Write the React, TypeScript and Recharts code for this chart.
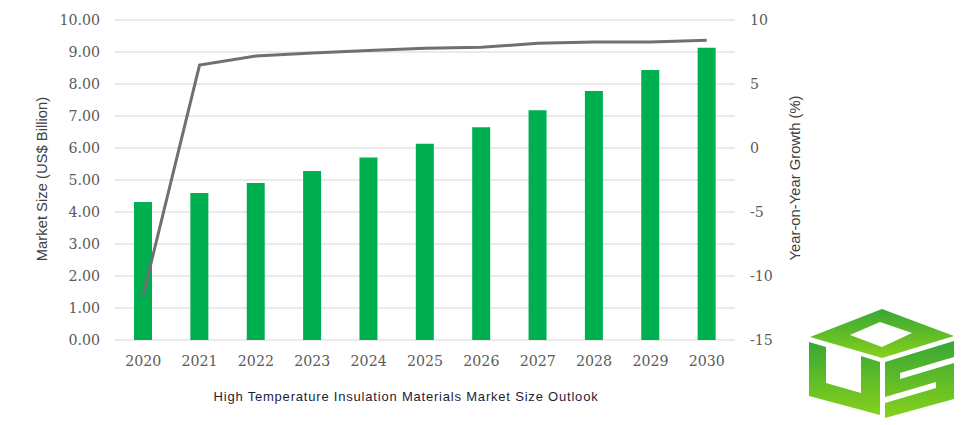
import React from 'react';
import { ComposedChart, Bar, Line, XAxis, YAxis, CartesianGrid } from 'recharts';

// Market size outlook, 2020-2030
const years = ['2020', '2021', '2022', '2023', '2024', '2025', '2026', '2027', '2028', '2029', '2030'];
const marketSize = [4.31, 4.59, 4.91, 5.28, 5.70, 6.13, 6.65, 7.18, 7.78, 8.44, 9.13]; // US$ Billion
const yoyGrowth = [-11.5, 6.48, 7.19, 7.42, 7.62, 7.79, 7.87, 8.18, 8.28, 8.28, 8.41]; // %

const leftTicks = [0, 1, 2, 3, 4, 5, 6, 7, 8, 9, 10];
const rightTicks = [-15, -10, -5, 0, 5, 10];

const data = years.map((year, i) => ({ year, size: marketSize[i], growth: yoyGrowth[i] }));

const tickStyle = { fontFamily: '"DejaVu Serif", serif', fontSize: 14.2, fill: '#5a5a5a' };
const titleStyle = { fontFamily: '"Liberation Sans", Arial, sans-serif', fontSize: 14.8, fill: '#404040' };

function Logo() {
  return (
    <g>
      <defs>
        <linearGradient id="logoGreen" x1="0" y1="0" x2="0" y2="1">
          <stop offset="0%" stopColor="#38a636" />
          <stop offset="100%" stopColor="#86d11b" />
        </linearGradient>
      </defs>
      {/* top face with square hole */}
      <path
        fill="url(#logoGreen)"
        fillRule="evenodd"
        d="M882 309 L954 336 L882 358 L810 337 Z M850 335 L880 322 L912 333 L882 347 Z"
      />
      {/* left face: U */}
      <path
        fill="url(#logoGreen)"
        d="M809 342 L826 347 L826 383 L861 393 L861 356 L880 362 L880 415 L809 396 Z"
      />
      {/* right face: S */}
      <path
        fill="url(#logoGreen)"
        d="M885 362 L954 341 L954 357 L900 373 L900 379 L954 363 L954 399 L885 418 L885 403 L936 388 L936 382 L885 397 Z"
      />
    </g>
  );
}

export default function App() {
  return (
    <div style={{ position: 'absolute', left: 0, top: 0, width: 975, height: 425, background: '#fff' }}>
      <ComposedChart
        width={975}
        height={425}
        data={data}
        margin={{ top: 20, right: 0, bottom: 55, left: 0 }}
        barCategoryGap={0}
      >
        <CartesianGrid vertical={false} stroke="#e3e3e3" strokeWidth={1.5} yAxisId="left" />
        <XAxis
          dataKey="year"
          axisLine={false}
          tickLine={false}
          height={30}
          tickMargin={10}
          tick={tickStyle}
          interval={0}
        />
        <YAxis
          yAxisId="left"
          orientation="left"
          width={115}
          domain={[0, 10]}
          ticks={leftTicks}
          tickFormatter={(v: number) => v.toFixed(2)}
          axisLine={false}
          tickLine={false}
          tickMargin={9}
          tick={tickStyle}
        />
        <YAxis
          yAxisId="right"
          orientation="right"
          width={240}
          domain={[-15, 10]}
          ticks={rightTicks}
          axisLine={false}
          tickLine={false}
          tickMargin={9}
          tick={tickStyle}
        />
        <Bar yAxisId="left" dataKey="size" fill="#00b050" barSize={18} isAnimationActive={false} />
        <Line
          yAxisId="right"
          dataKey="growth"
          type="linear"
          stroke="#707070"
          strokeWidth={3}
          dot={false}
          isAnimationActive={false}
        />
      </ComposedChart>
      <svg
        width={975}
        height={425}
        style={{ position: 'absolute', left: 0, top: 0, pointerEvents: 'none' }}
      >
        <text
          transform="translate(47 179) rotate(-90)"
          textAnchor="middle"
          style={titleStyle}
        >
          Market Size (US$ Billion)
        </text>
        <text
          transform="translate(800 178) rotate(-90)"
          textAnchor="middle"
          style={titleStyle}
        >
          Year-on-Year Growth (%)
        </text>
        <text
          x={406}
          y={401}
          textAnchor="middle"
          style={{
            fontFamily: '"Liberation Sans", Arial, sans-serif',
            fontSize: 13,
            letterSpacing: 0.8,
            fill: '#1d1d3a',
          }}
        >
          High Temperature Insulation Materials Market Size Outlook
        </text>
        <Logo />
      </svg>
    </div>
  );
}
